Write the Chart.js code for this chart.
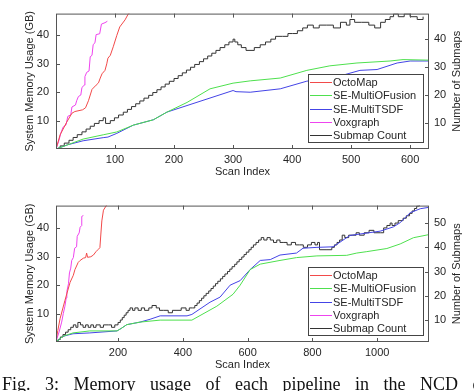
<!DOCTYPE html>
<html lang="en">
<head>
    <meta charset="UTF-8">
    <title>Memory Usage</title>
    <script src="https://cdn.jsdelivr.net/npm/chart.js"></script>
    <style>
        body {
            margin: 0;
            background: #fff;
            width: 474px;
            height: 391px;
            overflow: hidden;
            position: relative;
        }
        .plot {
            position: absolute;
            left: 0;
        }
        #topPlot { top: 0; }
        #bottomPlot { top: 192px; }
        .caption {
            position: absolute;
            left: 2px;
            top: 375px;
            font-family: "Liberation Serif", serif;
            font-size: 18px;
            line-height: 18px;
            word-spacing: 10px;
            white-space: nowrap;
            color: #111;
        }
    </style>
</head>
<body>
    <canvas id="topPlot" class="plot" width="474" height="185"></canvas>
    <canvas id="bottomPlot" class="plot" width="474" height="186"></canvas>
    <div class="caption">Fig. 3: Memory usage of each pipeline in the NCD dataset</div>

    <script>
        const seriesNames = ['OctoMap', 'SE-MultiOFusion', 'SE-MultiTSDF', 'Voxgraph', 'Submap Count'];

        const topScanTicks = [100, 200, 300, 400, 500, 600];
        const topMemoryTicks = [10, 20, 30, 40];
        const topSubmapTicks = [10, 20, 30, 40];
        const bottomScanTicks = [200, 400, 600, 800, 1000];
        const bottomMemoryTicks = [10, 20, 30, 40];
        const bottomSubmapTicks = [10, 20, 30, 40, 50];

        // top run: [scan index, GB] and [scan index, submaps]
        const topOcto = [[0, 0], [7, 5], [18, 9.4], [27, 12.6], [32, 13.2], [45, 13.8], [50, 14.5], [55, 17], [61, 21],
            [68, 22.5], [72, 23.3], [75, 25], [78, 26.5], [83, 27.7], [86, 30], [88, 32], [92, 33], [97, 36], [103, 40],
            [108, 43], [117, 45.5], [122, 47.4], [127, 48.5], [140, 51]];
        const topFusion = [[0, 0], [20, 1.5], [46, 3.5], [80, 5], [103, 6], [131, 8.4], [165, 10.3], [188, 13], [222, 16.4],
            [261, 21.2], [300, 23.2], [329, 24], [380, 25], [425, 27.7], [464, 29.3], [510, 30.3], [566, 31], [588, 31.5], [632, 31.3]];
        const topTsdf = [[0, 0], [20, 1.5], [46, 2.9], [80, 4], [88, 4.2], [103, 5.5], [131, 8.4], [165, 10.3], [188, 13],
            [244, 16.8], [300, 20.6], [305, 20.2], [329, 20], [380, 21.2], [425, 23.9], [464, 25], [486, 26], [515, 27.7],
            [544, 28], [578, 30.3], [600, 31], [632, 31]];
        const topVox = [[0, 0], [5, 3], [8, 5.5], [12, 7.7], [17, 8.5], [20, 11.5], [25, 12], [27, 14.8], [33, 15.5], [35, 17],
            [38, 18.5], [42, 19], [44, 21.7], [48, 22.5], [49, 25.5], [52, 27], [56, 27.5], [58, 32.5], [61, 33], [63, 36.8],
            [66, 37.4], [68, 40.3], [74, 40.6], [77, 44], [83, 44.5], [87, 45]];
        const topCount = [[0, 1], [7, 2], [14, 3], [22, 4], [29, 5], [36, 6], [44, 7], [51, 8], [58, 9], [65, 10], [73, 11],
            [80, 12], [84, 10], [92, 11], [99, 12], [106, 13], [114, 14], [121, 15], [128, 16], [135, 17], [142, 18], [149, 19],
            [157, 20], [164, 21], [171, 22], [178, 23], [185, 24], [192, 25], [200, 26], [207, 27], [214, 28], [221, 29],
            [228, 30], [235, 31], [243, 32], [250, 33], [257, 34], [264, 35], [271, 36], [278, 37], [286, 38], [293, 39],
            [300, 40], [303, 39], [308, 38], [314, 37], [322, 36], [336, 37], [346, 38], [355, 39], [364, 40], [372, 41],
            [384, 41], [393, 42], [401, 42], [409, 43], [418, 44], [426, 45], [436, 44], [446, 45], [458, 45], [470, 44],
            [482, 46], [492, 45], [498, 47], [506, 46], [518, 46], [530, 45], [540, 44], [550, 46], [558, 47], [566, 48],
            [572, 49], [580, 48], [590, 49], [600, 48], [612, 47], [622, 48]];

        // bottom run (NCD)
        const bottomOcto = [[8, 0], [14, 4], [21, 8.2], [36, 14.6], [52, 21], [62, 23.5], [67, 25.5], [77, 28], [83, 28.7],
            [93, 29.5], [100, 29.7], [103, 31.3], [106, 29.8], [116, 30], [124, 30.6], [132, 31.8], [139, 32.6], [144, 33.2],
            [147, 38], [150, 42.6], [155, 46.4], [165, 48.2], [180, 51]];
        const bottomFusion = [[8, 0], [30, 2], [61, 3.2], [113, 3.9], [197, 3.9], [210, 4.8], [227, 6.1], [268, 7], [330, 7.7],
            [428, 7.7], [505, 12.6], [555, 16.8], [577, 20], [608, 25.5], [639, 27.4], [700, 28.7], [751, 29.7], [814, 30.3],
            [906, 30.5], [937, 31.3], [968, 31.8], [1030, 32.9], [1071, 34.5], [1112, 36.7], [1160, 37.8]];
        const bottomTsdf = [[8, 0], [30, 2], [61, 2.9], [113, 3.2], [197, 3.9], [210, 4.8], [227, 6.1], [268, 7], [299, 8],
            [330, 9.2], [413, 9.2], [428, 9.7], [484, 14], [515, 15.8], [546, 20], [577, 21.6], [608, 25.5], [639, 28.7],
            [670, 29], [700, 30.6], [751, 31.3], [771, 33], [814, 33.3], [864, 33.5], [916, 37.5], [978, 38.5], [1009, 39],
            [1050, 40.5], [1071, 42], [1102, 45.5], [1133, 46.9], [1160, 47.4]];
        const bottomVox = [[8, 0], [18, 3.5], [26, 7], [31, 10], [36, 12.6], [40, 15.5], [42, 17.8], [47, 20.5], [50, 24.3],
            [54, 26], [57, 28.7], [62, 29.7], [66, 33], [72, 33.5], [74, 37.2], [80, 38.4], [83, 40.4], [88, 41], [88, 44.2], [93, 44.5]];
        const bottomCount = [[8, 1], [15, 2], [22, 3], [30, 4], [38, 5], [46, 6], [54, 7], [62, 8], [70, 7], [76, 9], [84, 8],
            [92, 7], [100, 8], [108, 7], [116, 8], [124, 7], [132, 8], [145, 7], [155, 8], [170, 8], [180, 7], [190, 8],
            [200, 9], [207, 10], [213, 11], [219, 12], [225, 13], [231, 14], [237, 15], [245, 14], [252, 15], [262, 14],
            [272, 15], [282, 14], [295, 15], [305, 16], [318, 15], [328, 14], [340, 14], [355, 13], [368, 14], [382, 14],
            [395, 15], [410, 14], [420, 15], [430, 15], [437, 16], [444, 17], [451, 18], [458, 19], [465, 20], [472, 21],
            [480, 22], [487, 23], [494, 24], [501, 25], [508, 26], [516, 27], [523, 28], [530, 29], [538, 30], [545, 31],
            [552, 32], [560, 33], [567, 34], [574, 35], [582, 36], [589, 37], [596, 38], [604, 39], [611, 40], [618, 41],
            [626, 42], [634, 43], [642, 44], [650, 43], [660, 44], [670, 43], [680, 42], [690, 43], [700, 42], [712, 42],
            [722, 41], [735, 42], [748, 41], [760, 41], [772, 40], [785, 41], [797, 42], [808, 41], [816, 42], [822, 39],
            [845, 39], [860, 40], [868, 41], [876, 42], [884, 43], [892, 45], [900, 44], [912, 45], [925, 45], [935, 46],
            [945, 45], [960, 46], [975, 47], [990, 46], [1010, 46], [1020, 48], [1030, 49], [1040, 50], [1046, 49],
            [1055, 50], [1065, 51], [1080, 52], [1090, 53], [1100, 54], [1108, 55], [1115, 56], [1122, 57], [1130, 58], [1140, 59]];

        const lineColors = ['#f24a4a', '#4ee04e', '#4444e6', '#ee44ee', '#333333'];
        const axisColor = '#555';
        const textColor = '#262626';
        const font = { family: 'Liberation Sans, Arial, sans-serif', size: 11 };

        // box, inward ticks, right axis label and the boxed legend, MATLAB style
        const matlabFrame = {
            id: 'matlabFrame',
            afterDatasetsDraw(chart) {
                const ctx = chart.ctx;
                const a = chart.chartArea;
                const sc = chart.scales;
                ctx.save();
                ctx.strokeStyle = axisColor;
                ctx.lineWidth = 1;
                ctx.strokeRect(a.left + 0.5, a.top + 0.5, a.right - a.left - 1, a.bottom - a.top - 1);
                ctx.beginPath();
                sc.x.ticks.forEach(t => {
                    const px = Math.round(sc.x.getPixelForValue(t.value)) + 0.5;
                    ctx.moveTo(px, a.bottom); ctx.lineTo(px, a.bottom - 4);
                    ctx.moveTo(px, a.top); ctx.lineTo(px, a.top + 4);
                });
                sc.y.ticks.forEach(t => {
                    const py = Math.round(sc.y.getPixelForValue(t.value)) + 0.5;
                    ctx.moveTo(a.left, py); ctx.lineTo(a.left + 4, py);
                });
                sc.y1.ticks.forEach(t => {
                    const py = Math.round(sc.y1.getPixelForValue(t.value)) + 0.5;
                    ctx.moveTo(a.right, py); ctx.lineTo(a.right - 4, py);
                });
                ctx.stroke();

                // right axis title reads bottom to top like the left one
                ctx.fillStyle = textColor;
                ctx.font = font.size + 'px ' + font.family;
                ctx.textAlign = 'center';
                ctx.textBaseline = 'middle';
                ctx.translate(457, (a.top + a.bottom) / 2);
                ctx.rotate(-Math.PI / 2);
                ctx.fillText('Number of Submaps', 0, 0);
                ctx.restore();

                // legend
                const w = 115, h = 68;
                const bx = a.right - 6 - w, by = a.bottom - 7 - h;
                ctx.save();
                ctx.fillStyle = '#fff';
                ctx.fillRect(bx, by, w, h);
                ctx.lineWidth = 1;
                ctx.strokeStyle = '#444';
                ctx.strokeRect(bx + 0.5, by + 0.5, w, h);
                ctx.font = font.size + 'px ' + font.family;
                ctx.textBaseline = 'middle';
                chart.data.datasets.forEach((ds, i) => {
                    const ry = Math.round(by + 8 + i * 13.3) + 0.5;
                    ctx.strokeStyle = lineColors[i];
                    ctx.beginPath();
                    ctx.moveTo(bx + 2, ry); ctx.lineTo(bx + 24, ry);
                    ctx.stroke();
                    ctx.fillStyle = textColor;
                    ctx.fillText(ds.label, bx + 25, ry);
                });
                ctx.restore();
            }
        };

        function makeChart(id, series, cfg) {
            const datasets = series.map((pts, i) => ({
                label: seriesNames[i],
                data: pts.map(p => ({ x: p[0], y: p[1] })),
                borderColor: lineColors[i],
                borderWidth: 1,
                pointRadius: 0,
                fill: false,
                tension: 0,
                stepped: i === 4,
                yAxisID: i === 4 ? 'y1' : 'y'
            }));
            const tickStyle = { color: textColor, font: font, callback: v => String(v) };
            return new Chart(document.getElementById(id), {
                type: 'line',
                data: { datasets: datasets },
                plugins: [matlabFrame],
                options: {
                    responsive: false,
                    animation: false,
                    devicePixelRatio: 1,
                    layout: { padding: { top: 1, left: 0, right: 0, bottom: 0 } },
                    plugins: { legend: { display: false }, tooltip: { enabled: false } },
                    scales: {
                        x: {
                            type: 'linear',
                            min: cfg.xMin,
                            max: cfg.xMax,
                            grid: { display: false, drawTicks: false },
                            border: { display: false },
                            afterBuildTicks: s => { s.ticks = cfg.xTicks.map(v => ({ value: v })); },
                            afterFit: s => { s.height = 36; },
                            ticks: Object.assign({ padding: 4, maxRotation: 0 }, tickStyle),
                            title: { display: true, text: 'Scan Index', color: textColor, font: font, padding: { top: 0, bottom: 6 } }
                        },
                        y: {
                            position: 'left',
                            min: 0,
                            max: cfg.yMax,
                            grid: { display: false, drawTicks: false },
                            border: { display: false },
                            afterBuildTicks: s => { s.ticks = cfg.yTicks.map(v => ({ value: v })); },
                            afterFit: s => { s.width = 56; },
                            ticks: Object.assign({ padding: 7 }, tickStyle),
                            title: { display: true, text: 'System Memory Usage (GB)', color: textColor, font: font, padding: { top: 23, bottom: 0 } }
                        },
                        y1: {
                            position: 'right',
                            min: cfg.y1Min,
                            max: cfg.y1Max,
                            grid: { display: false, drawTicks: false },
                            border: { display: false },
                            afterBuildTicks: s => { s.ticks = cfg.y1Ticks.map(v => ({ value: v })); },
                            afterFit: s => { s.width = 45; },
                            ticks: Object.assign({ padding: 5 }, tickStyle)
                        }
                    }
                }
            });
        }

        makeChart('topPlot', [topOcto, topFusion, topTsdf, topVox, topCount], {
            xMin: 0, xMax: 632, xTicks: topScanTicks,
            yMax: 47.7, yTicks: topMemoryTicks,
            y1Min: 0.9, y1Max: 49.1, y1Ticks: topSubmapTicks
        });

        makeChart('bottomPlot', [bottomOcto, bottomFusion, bottomTsdf, bottomVox, bottomCount], {
            xMin: 8.5, xMax: 1160, xTicks: bottomScanTicks,
            yMax: 48, yTicks: bottomMemoryTicks,
            y1Min: 0.94, y1Max: 57.2, y1Ticks: bottomSubmapTicks
        });
    </script>
</body>
</html>
